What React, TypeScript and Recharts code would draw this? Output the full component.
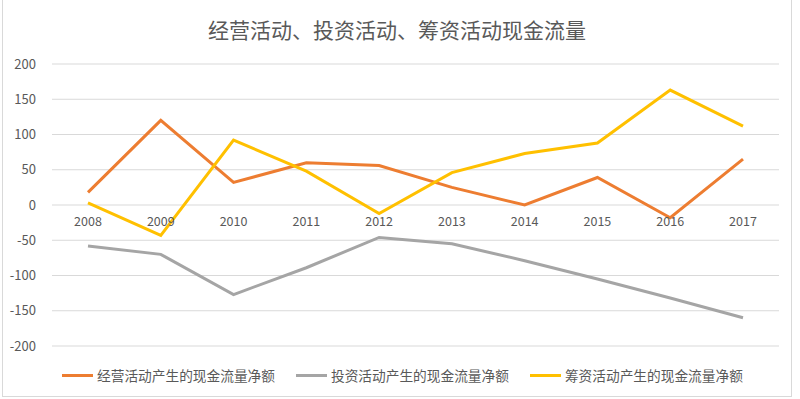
import React from 'react';
import {
  LineChart,
  Line,
  XAxis,
  YAxis,
  CartesianGrid,
} from 'recharts';

const years = ['2008', '2009', '2010', '2011', '2012', '2013', '2014', '2015', '2016', '2017'];
const operating = [18, 120, 32, 60, 56, 25, 0, 39, -18, 65];
const investing = [-58, -70, -127, -89, -46, -55, -79, -105, -132, -160];
const financing = [3, -43, 92, 48, -12, 46, 73, 88, 163, 112];
const yTicks = [-200, -150, -100, -50, 0, 50, 100, 150, 200];

const seriesNames = ['经营活动产生的现金流量净额', '投资活动产生的现金流量净额', '筹资活动产生的现金流量净额'];
const seriesColors = ['#ED7D31', '#A5A5A5', '#FFC000'];

const data = years.map((year, i) => ({
  year,
  operating: operating[i],
  investing: investing[i],
  financing: financing[i],
}));

const FONT = '"Noto Sans CJK SC", "Noto Sans", sans-serif';

// category labels sit just under the zero line, like Excel does
const YearTick = (props: any) => {
  const { x, y, payload } = props;
  return (
    <text x={x} y={y - 128} textAnchor='middle' fill='#595959' fontSize={12.5} fontFamily={FONT}>
      {payload.value}
    </text>
  );
};

export default function App() {
  return (
    <div
      style={{
        position: 'absolute',
        left: 2,
        top: -1,
        width: 790,
        height: 398,
        border: '1px solid #D9D9D9',
        background: '#fff',
        boxSizing: 'border-box',
      }}
    >
      <div
        style={{
          position: 'absolute',
          top: 14,
          width: '100%',
          textAlign: 'center',
          fontFamily: FONT,
          fontSize: 21,
          color: '#595959',
        }}
      >
        经营活动、投资活动、筹资活动现金流量
      </div>
      <LineChart
        width={788}
        height={396}
        data={data}
        margin={{ top: 64, right: 12, bottom: 49, left: 0 }}
      >
        <CartesianGrid vertical={false} stroke='#D9D9D9' strokeWidth={1.2} />
        <XAxis
          dataKey='year'
          axisLine={false}
          tickLine={false}
          tick={<YearTick />}
          padding={{ left: 36, right: 36 }}
          height={1}
          interval={0}
        />
        <YAxis
          domain={[-200, 200]}
          ticks={yTicks}
          axisLine={false}
          tickLine={false}
          width={49}
          tick={{ fill: '#595959', fontSize: 13, fontFamily: FONT }}
          tickMargin={10}
        />
        <Line dataKey='operating' name={seriesNames[0]} stroke={seriesColors[0]} strokeWidth={3} dot={false} isAnimationActive={false} />
        <Line dataKey='investing' name={seriesNames[1]} stroke={seriesColors[1]} strokeWidth={3} dot={false} isAnimationActive={false} />
        <Line dataKey='financing' name={seriesNames[2]} stroke={seriesColors[2]} strokeWidth={3} dot={false} isAnimationActive={false} />
      </LineChart>
      <div
        style={{
          position: 'absolute',
          left: 59,
          top: 365,
          display: 'flex',
          fontFamily: FONT,
          fontSize: 13.7,
          color: '#595959',
        }}
      >
        {seriesNames.map((name, i) => (
          <div key={name} style={{ display: 'flex', alignItems: 'center', marginRight: 21 }}>
            <span style={{ display: 'inline-block', width: 31, height: 3, background: seriesColors[i], marginRight: 4 }} />
            <span style={{ whiteSpace: 'nowrap' }}>{name}</span>
          </div>
        ))}
      </div>
    </div>
  );
}
